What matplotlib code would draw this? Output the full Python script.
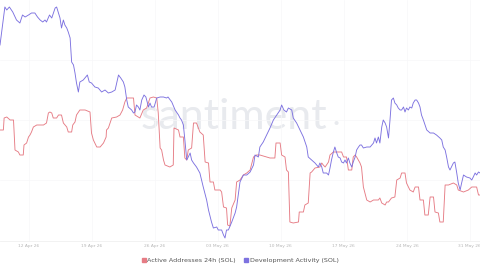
import datetime as dt
import matplotlib
matplotlib.use("Agg")
import matplotlib.pyplot as plt
from matplotlib.lines import Line2D

START = dt.datetime(2026, 4, 8, 19)

# Development Activity (SOL): hours since START, value
dev_hours = [0, 13, 18, 25, 34, 44, 53, 60, 67, 76, 84, 93, 100, 107, 114, 120, 124, 132, 138, 147,
             151, 156, 160, 164, 169, 173, 178, 182, 187, 191, 196, 200, 204, 209, 213, 222, 233, 238, 244, 253,
             262, 271, 280, 289, 298, 307, 316, 322, 329, 333, 338, 342, 351, 356, 360, 364, 369, 373, 378, 384,
             389, 396, 400, 404, 411, 418, 427, 436, 444, 448, 458, 467, 476, 480, 484, 489, 493, 498, 502, 507,
             511, 516, 524, 533, 542, 551, 556, 564, 569, 578, 582, 591, 596, 600, 604, 609, 618, 627, 631, 640,
             649, 658, 667, 676, 680, 689, 693, 702, 711, 720, 729, 738, 747, 751, 757, 764, 769, 778, 782, 791,
             800, 809, 818, 822, 831, 840, 849, 853, 858, 862, 871, 876, 880, 884, 889, 893, 898, 902, 907, 911,
             916, 920, 924, 929, 933, 938, 942, 947, 951, 956, 960, 964, 969, 978, 987, 996, 1000, 1004, 1009, 1013,
             1018, 1022, 1027, 1031, 1036, 1040, 1044, 1049, 1053, 1058, 1062, 1067, 1071, 1076, 1080, 1084, 1089, 1093, 1098, 1102,
             1107, 1111, 1116, 1120, 1124, 1129, 1138, 1147, 1156, 1164, 1173, 1178, 1182, 1187, 1191, 1196, 1200, 1209, 1213, 1218,
             1222, 1227, 1231, 1236, 1244, 1253, 1258, 1262, 1267, 1271, 1276, 1280]
dev_values = [195, 233, 230, 233, 228, 220, 217, 225, 223, 225, 227, 227, 223, 220, 218, 220, 218, 225, 222, 232,
              233, 227, 222, 212, 220, 215, 212, 208, 202, 178, 175, 167, 157, 148, 158, 160, 165, 158, 157, 153,
              152, 148, 150, 147, 148, 150, 165, 162, 158, 153, 140, 133, 130, 127, 128, 135, 133, 130, 140, 145,
              143, 133, 137, 133, 133, 142, 143, 143, 142, 143, 138, 130, 125, 122, 120, 115, 100, 80, 83, 87,
              80, 77, 73, 67, 53, 40, 30, 18, 12, 13, 10, 10, 5, 2, 10, 10, 18, 27, 33, 58,
              65, 65, 68, 75, 85, 83, 93, 98, 105, 112, 120, 125, 130, 135, 130, 128, 132, 130, 122, 117,
              110, 103, 93, 83, 80, 77, 73, 77, 73, 67, 67, 65, 72, 80, 88, 93, 87, 83, 82, 78,
              77, 80, 77, 82, 77, 73, 78, 83, 90, 93, 95, 95, 92, 93, 93, 97, 102, 97, 103, 97,
              113, 120, 117, 113, 102, 120, 140, 142, 137, 135, 132, 130, 130, 133, 128, 132, 130, 133, 132, 137,
              140, 140, 137, 133, 125, 120, 110, 107, 107, 105, 102, 100, 93, 90, 83, 73, 70, 77, 78, 67,
              57, 50, 57, 65, 63, 62, 60, 63, 67, 65, 68, 67]

# Active Addresses 24h (SOL): hours since START, value
addr_hours = [0, 9, 11, 18, 27, 36, 40, 49, 53, 62, 64, 71, 76, 80, 84, 89, 98, 116, 124, 129,
              133, 138, 142, 151, 156, 164, 169, 178, 182, 191, 194, 200, 204, 213, 227, 240, 244, 249, 258, 267,
              276, 283, 284, 289, 298, 311, 320, 327, 333, 338, 356, 360, 373, 382, 391, 400, 409, 418, 422, 427,
              431, 436, 440, 453, 462, 464, 476, 480, 489, 493, 498, 502, 511, 516, 524, 533, 542, 547, 556, 560,
              569, 573, 587, 591, 596, 604, 607, 613, 618, 627, 631, 640, 649, 658, 667, 676, 684, 693, 711, 720,
              733, 736, 747, 751, 760, 764, 769, 773, 782, 796, 798, 809, 813, 822, 827, 831, 840, 853, 858, 862,
              867, 876, 880, 889, 911, 916, 924, 929, 938, 942, 947, 951, 960, 964, 969, 978, 987, 996, 1009, 1013,
              1018, 1027, 1031, 1036, 1044, 1053, 1058, 1067, 1071, 1080, 1084, 1093, 1102, 1107, 1116, 1120, 1129, 1133, 1142, 1147,
              1156, 1160, 1169, 1173, 1182, 1187, 1196, 1209, 1218, 1222, 1236, 1249, 1258, 1271, 1276, 1280]
addr_values = [110, 110, 122, 123, 120, 120, 90, 88, 85, 85, 95, 97, 103, 105, 108, 113, 115, 115, 117, 127,
               128, 127, 122, 122, 125, 125, 117, 113, 108, 108, 115, 118, 125, 130, 130, 128, 107, 100, 93, 93,
               97, 103, 110, 112, 122, 123, 125, 130, 138, 142, 142, 125, 122, 130, 132, 142, 143, 142, 127, 92,
               90, 80, 75, 73, 75, 112, 110, 103, 103, 82, 80, 90, 92, 117, 117, 108, 105, 78, 77, 58,
               58, 50, 50, 48, 33, 32, 15, 14, 32, 40, 58, 60, 65, 67, 70, 83, 85, 85, 83, 82,
               82, 97, 97, 85, 83, 70, 68, 18, 17, 18, 28, 28, 35, 37, 67, 68, 72, 73, 77, 75,
               73, 78, 85, 88, 88, 83, 83, 70, 70, 83, 85, 83, 77, 73, 53, 40, 38, 40, 40, 42,
               37, 35, 38, 38, 42, 43, 60, 62, 67, 67, 57, 50, 48, 53, 53, 40, 40, 25, 25, 43,
               43, 28, 27, 18, 18, 55, 55, 57, 55, 50, 48, 50, 53, 53, 45, 45]

tick_labels = ["12 Apr 26", "19 Apr 26", "26 Apr 26", "03 May 26", "10 May 26",
               "17 May 26", "24 May 26", "31 May 26"]
tick_dates = [dt.datetime(2026, 4, 12) + dt.timedelta(days=7 * i) for i in range(len(tick_labels))]

RED = "#e67c85"
BLUE = "#7d72e0"

fig = plt.figure(figsize=(4.8, 2.7), dpi=100)
ax = fig.add_axes([0, 29 / 270, 1, 241 / 270])

dev_t = [START + dt.timedelta(hours=h) for h in dev_hours]
addr_t = [START + dt.timedelta(hours=h) for h in addr_hours]

ax.plot(addr_t, addr_values, color=RED, lw=0.65, zorder=3)
ax.plot(dev_t, dev_values, color=BLUE, lw=0.65, zorder=4)

ax.set_xlim(START, START + dt.timedelta(hours=1280))
ax.set_ylim(-1, 240)
ax.set_xticks(tick_dates)
ax.set_xticklabels(tick_labels, fontsize=3.2, color="#b8b8b8")
ax.tick_params(axis="x", length=0, pad=2)
ax.set_yticks([60, 120, 180])
ax.tick_params(axis="y", left=False, labelleft=False)
ax.grid(True, color="#f7f7f9", lw=0.5, zorder=0)
for s in ["top", "right", "left"]:
    ax.spines[s].set_visible(False)
ax.spines["bottom"].set_color("#f0f0f0")
ax.spines["bottom"].set_linewidth(0.6)

ax.text(0.487, 0.515, "santiment", transform=ax.transAxes, ha="center", va="center",
        fontsize=31, color="#e8eaee", family="Lato", zorder=1)
ax.text(0.70, 0.49, "·", transform=ax.transAxes, ha="center", va="center",
        fontsize=20, color="#e8eaee", family="Lato", zorder=1)

handles = [Line2D([], [], marker="s", ls="none", color=RED, markersize=2.6),
           Line2D([], [], marker="s", ls="none", color=BLUE, markersize=2.6)]
fig.legend(handles, ["Active Addresses 24h (SOL)", "Development Activity (SOL)"],
           loc="center", bbox_to_anchor=(0.5, 10 / 270), ncol=2, frameon=False,
           fontsize=4.6, labelcolor="#555555", handletextpad=0.2, columnspacing=1.2,
           handlelength=0.8)

fig.savefig("out.png", dpi=100)
